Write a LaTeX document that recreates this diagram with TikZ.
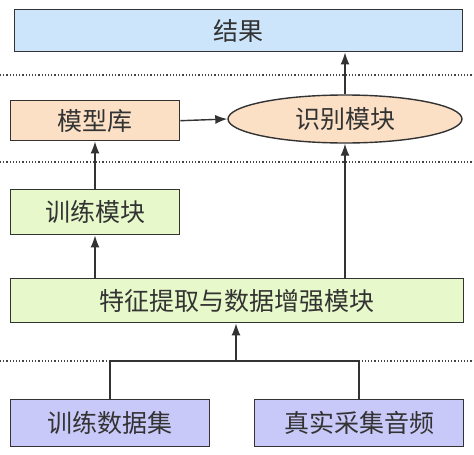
\documentclass[tikz,border=0pt]{standalone}
\usepackage{fontspec}
\newfontfamily\cjk{Noto Sans CJK SC}
\usetikzlibrary{shapes.geometric,arrows.meta}
\definecolor{linec}{HTML}{333333}
\definecolor{bluef}{HTML}{CCE5FB}
\definecolor{peachf}{HTML}{FBE0C6}
\definecolor{greenf}{HTML}{E7F8CA}
\definecolor{lavf}{HTML}{C9C9F9}
\definecolor{dotc}{HTML}{444444}
\begin{document}
\begin{tikzpicture}[x=1pt,y=-1pt,
  box/.style={draw=linec,line width=1.4pt,inner sep=0pt,anchor=north west,font=\cjk\fontsize{25}{27}\selectfont,text=linec},
  arr/.style={draw=linec,line width=1.4pt,-{Latex[length=12pt,width=9pt]}},
  ln/.style={draw=linec,line width=1.4pt},
  sep/.style={draw=dotc,line width=1.2pt,dotted}]
\useasboundingbox (0,0) rectangle (474,455);
\node[box,fill=bluef,minimum width=448pt,minimum height=42pt] (res) at (14,9) {结果};
\node[box,fill=peachf,minimum width=169pt,minimum height=40pt] (lib) at (10,100) {模型库};
\node[draw=linec,line width=1.4pt,ellipse,fill=peachf,minimum width=234pt,minimum height=48pt,inner sep=0pt,font=\cjk\fontsize{25}{27}\selectfont,text=linec] (rec) at (345,119) {识别模块};
\node[box,fill=greenf,minimum width=169pt,minimum height=45pt] (train) at (10,189) {训练模块};
\node[box,fill=greenf,minimum width=453pt,minimum height=44pt] (feat) at (10,278) {特征提取与数据增强模块};
\node[box,fill=lavf,minimum width=199pt,minimum height=47pt] (ds) at (10,399) {训练数据集};
\node[box,fill=lavf,minimum width=209pt,minimum height=47pt] (audio) at (254,399) {真实采集音频};
\draw[sep] (0,75) -- (474,75);
\draw[sep] (0,162) -- (474,162);
\draw[sep] (0,361) -- (474,361);
\draw[arr] (lib.east) -- (rec.west);
\draw[arr] (rec.north) -- (rec.north |- res.south);
\draw[arr] (train.north -| 95,0) -- (lib.south -| 95,0);
\draw[arr] (feat.north -| 95,0) -- (train.south -| 95,0);
\draw[arr] (feat.north -| rec.south) -- (rec.south);
\coordinate (j) at (236,361);
\coordinate (jl) at (110,361);
\coordinate (jr) at (359,361);
\draw[ln] (ds.north -| jl) -- (jl) -- (jr) -- (audio.north -| jr);
\draw[arr] (j) -- (j |- feat.south);
\end{tikzpicture}
\end{document}
